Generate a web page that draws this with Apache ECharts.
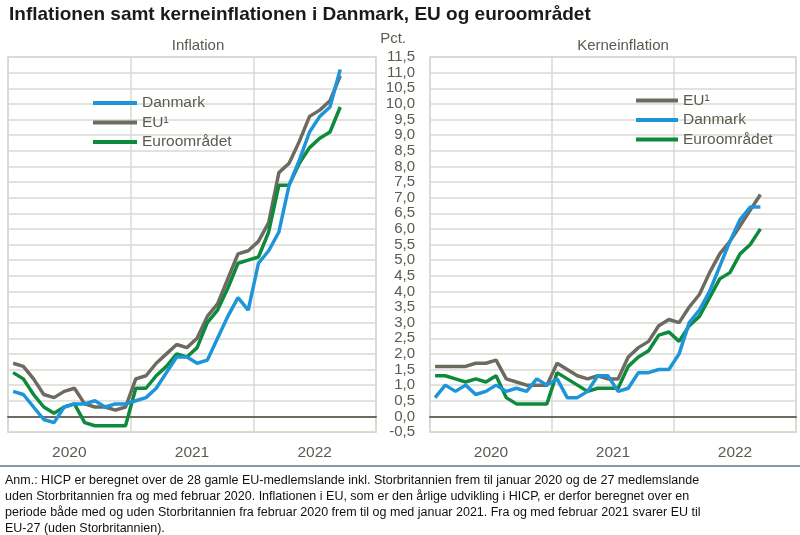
<!DOCTYPE html>
<html>
<head>
<meta charset="utf-8">
<script src="https://cdn.jsdelivr.net/npm/echarts@6/dist/echarts.min.js"></script>
<style>
  html, body { margin: 0; padding: 0; background: #fff; }
  #chart { width: 800px; height: 535px; }
</style>
</head>
<body>
<div id="chart"></div>
<script>
// monthly categories, jan 2020 - dec 2022
const months = [
  '2020-01','2020-02','2020-03','2020-04','2020-05','2020-06','2020-07','2020-08','2020-09','2020-10','2020-11','2020-12',
  '2021-01','2021-02','2021-03','2021-04','2021-05','2021-06','2021-07','2021-08','2021-09','2021-10','2021-11','2021-12',
  '2022-01','2022-02','2022-03','2022-04','2022-05','2022-06','2022-07','2022-08','2022-09','2022-10','2022-11','2022-12'
];
const years = ['2020', '2021', '2022'];

// Inflation (pct., år-til-år)
const inflDanmark = [0.8,0.7,0.3,-0.1,-0.2,0.3,0.4,0.4,0.5,0.3,0.4,0.4, 0.5,0.6,0.9,1.4,1.9,1.9,1.7,1.8,2.5,3.2,3.8,3.4, 4.9,5.3,5.9,7.4,8.2,9.1,9.6,9.9,11.1];
const inflEU      = [1.7,1.6,1.2,0.7,0.6,0.8,0.9,0.4,0.3,0.3,0.2,0.3, 1.2,1.3,1.7,2.0,2.3,2.2,2.5,3.2,3.6,4.4,5.2,5.3, 5.6,6.2,7.8,8.1,8.8,9.6,9.8,10.1,10.9];
const inflEuro    = [1.4,1.2,0.7,0.3,0.1,0.3,0.4,-0.2,-0.3,-0.3,-0.3,-0.3, 0.9,0.9,1.3,1.6,2.0,1.9,2.2,3.0,3.4,4.1,4.9,5.0, 5.1,5.9,7.4,7.4,8.1,8.6,8.9,9.1,9.9];

// Kerneinflation
const coreDanmark = [0.6,1.0,0.8,1.0,0.7,0.8,1.0,0.8,0.9,0.8,1.2,1.0, 1.2,0.6,0.6,0.8,1.3,1.3,0.8,0.9,1.4,1.4,1.5,1.5, 2.0,3.0,3.4,4.0,4.8,5.6,6.3,6.7,6.7];
const coreEU      = [1.6,1.6,1.6,1.6,1.7,1.7,1.8,1.2,1.1,1.0,1.0,1.0, 1.7,1.5,1.3,1.2,1.3,1.2,1.2,1.9,2.2,2.4,2.9,3.1, 3.0,3.5,3.9,4.6,5.2,5.6,6.1,6.6,7.1];
const coreEuro    = [1.3,1.3,1.2,1.1,1.2,1.1,1.3,0.6,0.4,0.4,0.4,0.4, 1.4,1.2,1.0,0.8,0.9,0.9,0.9,1.6,1.9,2.1,2.6,2.7, 2.4,2.9,3.2,3.8,4.4,4.6,5.2,5.5,6.0];

const note = [
  'Anm.: HICP er beregnet over de 28 gamle EU-medlemslande inkl. Storbritannien frem til januar 2020 og de 27 medlemslande',
  'uden Storbritannien fra og med februar 2020. Inflationen i EU, som er den årlige udvikling i HICP, er derfor beregnet over en',
  'periode både med og uden Storbritannien fra februar 2020 frem til og med januar 2021. Fra og med februar 2021 svarer EU til',
  'EU-27 (uden Storbritannien).'
];

const BLUE = '#1f95d9';
const GREY = '#6e6a60';
const GREEN = '#0d8a3c';
const TXT = '#5c5a50';
const GRID = '#d9d9d3';
const NARROW = '"Liberation Sans Narrow", "Arial Narrow", "Liberation Sans", Arial, sans-serif';

const chart = echarts.init(document.getElementById('chart'));

function xAxes(gridIndex) {
  return [
    {
      type: 'category', gridIndex, data: months, boundaryGap: true,
      axisLine: { onZero: true, lineStyle: { color: GREY, width: 2 } },
      axisTick: { show: false }, axisLabel: { show: false }, splitLine: { show: false }
    },
    {
      type: 'category', gridIndex, data: years, boundaryGap: true, position: 'bottom',
      axisLine: { onZero: false, lineStyle: { color: GRID, width: 1 } },
      axisTick: { show: false },
      axisLabel: { color: TXT, fontSize: 15.5, fontFamily: NARROW, margin: 13 },
      splitLine: { show: true, lineStyle: { color: GRID, width: 1.5 } }
    }
  ];
}

function yAxis(gridIndex, labels) {
  return {
    type: 'value', gridIndex, min: -0.5, max: 11.5, interval: 0.5,
    axisLine: { show: false }, axisTick: { show: false },
    axisLabel: {
      show: labels, color: TXT, fontSize: 15, fontFamily: NARROW, margin: 15,
      showMinLabel: true, showMaxLabel: true, hideOverlap: false,
      formatter: v => v.toFixed(1).replace('.', ',')
    },
    splitLine: { lineStyle: { color: GRID, width: 1.5 } }
  };
}

function line(name, data, color, idx) {
  return {
    name, type: 'line', data, xAxisIndex: idx * 2, yAxisIndex: idx,
    symbol: 'none', smooth: false,
    lineStyle: { color, width: 3.5 }, itemStyle: { color }
  };
}

const legendText = { color: TXT, fontSize: 15.5, fontFamily: NARROW };

chart.setOption({
  animation: false,
  title: [
    { text: 'Inflationen samt kerneinflationen i Danmark, EU og euroområdet', left: 4, top: 0,
      textStyle: { fontSize: 19, fontWeight: 'bold', color: '#1a1a1a', fontFamily: 'Liberation Sans, Arial, sans-serif' } },
    { text: 'Inflation', left: 193, top: 33, textAlign: 'center',
      textStyle: { fontSize: 15, fontWeight: 'normal', color: TXT, fontFamily: NARROW } },
    { text: 'Kerneinflation', left: 618, top: 33, textAlign: 'center',
      textStyle: { fontSize: 15, fontWeight: 'normal', color: TXT, fontFamily: NARROW } }
  ],
  legend: [
    { data: ['Danmark', 'EU¹', 'Euroområdet'], orient: 'vertical', left: 93, top: 95, padding: 0,
      itemWidth: 44, itemHeight: 4, itemGap: 3.5, icon: 'rect', textStyle: legendText, selectedMode: false },
    { data: ['EU¹', 'Danmark', 'Euroområdet'], orient: 'vertical', left: 636, top: 92.5, padding: 0,
      itemWidth: 42, itemHeight: 4, itemGap: 3.5, icon: 'rect', textStyle: legendText, selectedMode: false }
  ],
  grid: [
    { left: 8, top: 57, width: 368, height: 375, show: true, borderColor: GRID, borderWidth: 1.5, backgroundColor: 'transparent' },
    { left: 430, top: 57, width: 366, height: 375, show: true, borderColor: GRID, borderWidth: 1.5, backgroundColor: 'transparent' }
  ],
  xAxis: [...xAxes(0), ...xAxes(1)],
  yAxis: [yAxis(0, false), yAxis(1, true)],
  series: [
    line('EU¹', inflEU, GREY, 0),
    line('Euroområdet', inflEuro, GREEN, 0),
    line('Danmark', inflDanmark, BLUE, 0),
    line('EU¹', coreEU, GREY, 1),
    line('Euroområdet', coreEuro, GREEN, 1),
    line('Danmark', coreDanmark, BLUE, 1)
  ],
  graphic: [
    { type: 'text', right: 394, top: 31,
      style: { text: 'Pct.', fill: TXT, fontSize: 15, fontFamily: NARROW } },
    { type: 'rect', left: 0, top: 465, shape: { width: 800, height: 2 }, style: { fill: '#8d9aa6' } },
    { type: 'text', left: 5, top: 473,
      style: { text: note.join('\n'), fill: '#111', fontSize: 12.5, lineHeight: 15.8,
               fontFamily: 'Liberation Sans, Arial, sans-serif' } }
  ]
});
</script>
</body>
</html>
